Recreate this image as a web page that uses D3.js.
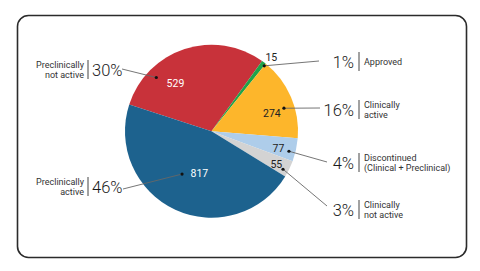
<html>
<head>
<script src="https://d3js.org/d3.v7.min.js"></script>
<style>
  body { margin: 0; background: white; }
  text { font-family: Roboto, 'Noto Sans', sans-serif; }
</style>
</head>
<body>
<script>

// chart data
var categories = ['Preclinically not active', 'Approved', 'Clinically active',
                  'Discontinued (Clinical + Preclinical)', 'Clinically not active', 'Preclinically active'];
var counts = [529, 15, 274, 77, 55, 817];
var percents = ['30%', '1%', '16%', '4%', '3%', '46%'];
var labelLines = [['Preclinically', 'not active'], ['Approved'], ['Clinically', 'active'],
                  ['Discontinued', '(Clinical + Preclinical)'], ['Clinically', 'not active'],
                  ['Preclinically', 'active']];
var colors = ['#c8323a', '#1fa34a', '#fdb62b', '#aecdea', '#d3d3d3', '#1d628e'];
var valueColors = ['white', '#222', '#222', '#222', '#222', 'white'];

// where the annotations sit (degrees clockwise from 12 o'clock, radius)
var dotPos = [[-45.8, 77], [38.9, 84], [72.4, 76], [104.5, 80], [118, 81], [214.5, 52]];
var valuePos = [[-36.9, 60], [39, 95], [73.4, 63], [104.2, 69], [117.4, 73], [196, 44]];
var sidePos = [{side: 'left', y: 70, ex: 122, ey: 69},
               {side: 'right', y: 62, ex: 319, ey: 61},
               {side: 'right', y: 110, ex: 320, ey: 108},
               {side: 'right', y: 163, ex: 327, ey: 162},
               {side: 'right', y: 210, ex: 327, ey: 206},
               {side: 'left', y: 187, ex: 123, ey: 189}];

var width = 480, height = 271;
var cx = 211.5, cy = 131.2, radius = 86.5;

var svg = d3.select('body').append('svg')
    .attr('width', width)
    .attr('height', height);

svg.append('rect')
    .attr('x', 17.5).attr('y', 15.5)
    .attr('width', 449).attr('height', 242)
    .attr('rx', 11)
    .attr('fill', 'white')
    .attr('stroke', '#2b2b2b')
    .attr('stroke-width', 1.6);

var pie = d3.pie().sort(null)
    .startAngle(-72 * Math.PI / 180)
    .endAngle(288 * Math.PI / 180);
var arc = d3.arc().innerRadius(0).outerRadius(radius);

var g = svg.append('g').attr('transform', 'translate(' + cx + ',' + cy + ')');

var slices = pie(counts);
g.selectAll('path').data(slices).enter().append('path')
    .attr('d', arc)
    .attr('fill', function(d, i) { return colors[i]; });

var polar = function(p) {
    var a = p[0] * Math.PI / 180;
    return [cx + p[1] * Math.sin(a), cy - p[1] * Math.cos(a)];
};

var ann = svg.append('g');

slices.forEach(function(d, i) {
    var dot = polar(dotPos[i]);
    var s = sidePos[i];

    ann.append('line')
        .attr('x1', dot[0]).attr('y1', dot[1])
        .attr('x2', s.ex).attr('y2', s.ey)
        .attr('stroke', '#666').attr('stroke-width', 0.9);
    ann.append('circle')
        .attr('cx', dot[0]).attr('cy', dot[1]).attr('r', 1.6)
        .attr('fill', '#111');

    var vp = polar(valuePos[i]);
    ann.append('text')
        .attr('x', vp[0]).attr('y', vp[1])
        .attr('text-anchor', 'middle')
        .attr('dominant-baseline', 'central')
        .attr('font-size', 10.5)
        .attr('fill', valueColors[i])
        .text(counts[i]);

    var right = s.side === 'right';
    var sepX = right ? 359 : 88;
    ann.append('line')
        .attr('x1', sepX).attr('x2', sepX)
        .attr('y1', s.y - 10).attr('y2', s.y + 9)
        .attr('stroke', '#444').attr('stroke-width', 1);

    ann.append('text')
        .attr('x', right ? sepX - 5 : sepX + 4)
        .attr('y', s.y + 5.5)
        .attr('text-anchor', right ? 'end' : 'start')
        .attr('font-size', 16.5)
        .attr('font-weight', 300)
        .attr('fill', '#1a1a1a')
        .text(percents[i]);

    var lines = labelLines[i];
    var t = ann.append('text')
        .attr('text-anchor', right ? 'start' : 'end')
        .attr('font-size', 9)
        .attr('fill', '#333');
    lines.forEach(function(l, j) {
        t.append('tspan')
            .attr('x', right ? sepX + 5 : sepX - 4)
            .attr('y', s.y + 3 + (j - (lines.length - 1) / 2) * 10.5)
            .text(l);
    });
});

</script>
</body>
</html>
